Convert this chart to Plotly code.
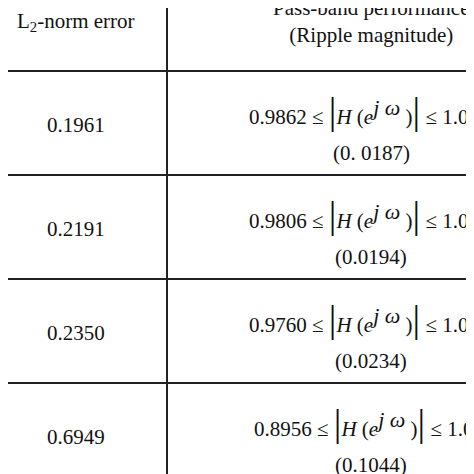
import plotly.graph_objects as go

l2_errors = ["0.1961", "0.2191", "0.2350", "0.6949"]
lower_bounds = ["0.9862", "0.9806", "0.9760", "0.8956"]
upper_bound = "1.000"
ripples = ["(0. 0187)", "(0.0194)", "(0.0234)", "(0.1044)"]
headers = ["L<sub>2</sub>-norm error", "Pass-band performance<br>(Ripple magnitude)"]

W = H = 474
OFF = 8  # page body margin
header_bottom = 71
row_h = 104
col_split = 167

fig = go.Figure()
F = dict(family="Liberation Serif, Times New Roman, serif", size=21, color="#111")
ann = []
ann.append(dict(x=76, y=22, text=headers[0], showarrow=False, font=F))
ann.append(dict(x=371, y=21, text=headers[1], showarrow=False, font=F))
bar = '<span style="font-size:38px">|</span>'
for i in range(4):
    top = header_bottom + i * row_h
    ann.append(dict(x=76, y=top + 54, text=l2_errors[i], showarrow=False, font=F))
    txt = (f"{lower_bounds[i]} ≤ {bar}<i>H</i> (<i>e</i><sup><span style='font-size:22px'><i>j ω</i></span></sup> ){bar} ≤ {upper_bound}")
    ann.append(dict(x=247 if i < 3 else 252, y=top + 40, text=txt, showarrow=False,
                    xanchor="left", font=F))
    ann.append(dict(x=371, y=top + 82, text=ripples[i], showarrow=False, font=F))
shapes = [dict(type="line", x0=col_split, x1=col_split, y0=0, y1=H + OFF,
               line=dict(color="#222", width=2))]
for i in range(4):
    y = header_bottom + i * row_h
    shapes.append(dict(type="line", x0=0, x1=W + OFF, y0=y, y1=y, line=dict(color="#222", width=2)))
for a in ann:
    a.update(xref="x", yref="y")
fig.update_layout(width=W, height=H, margin=dict(l=0, r=0, t=0, b=0),
                  paper_bgcolor="white", plot_bgcolor="white",
                  annotations=ann, shapes=shapes,
                  xaxis=dict(range=[OFF, W + OFF], visible=False, fixedrange=True),
                  yaxis=dict(range=[H + OFF, OFF], visible=False, fixedrange=True),
                  showlegend=False)
fig.write_html("out.html")
